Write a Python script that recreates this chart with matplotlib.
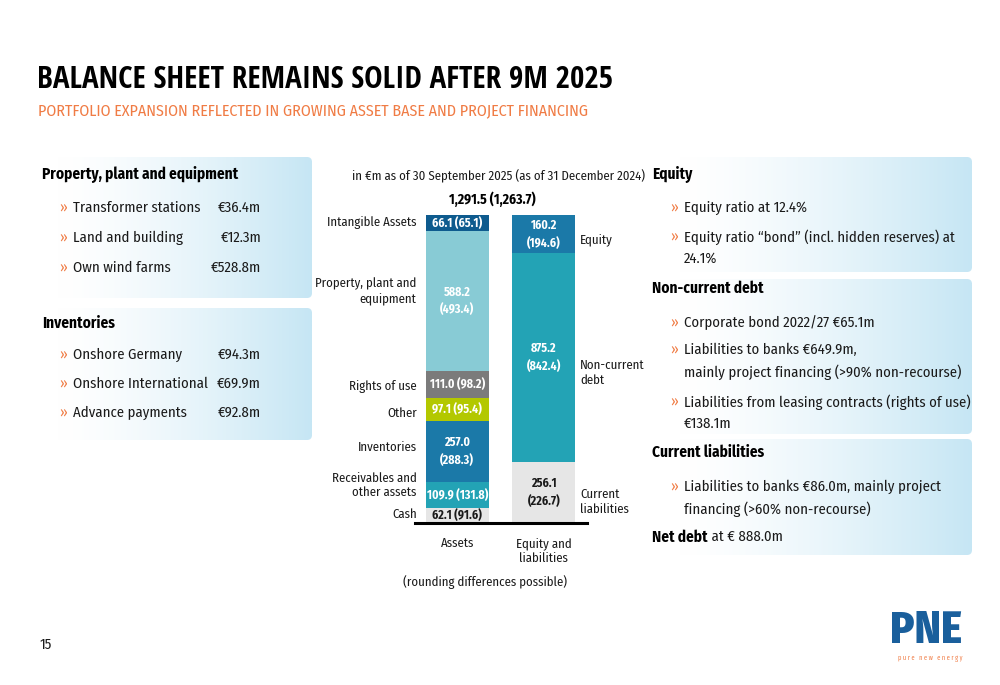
import matplotlib.pyplot as plt
import numpy as np
from matplotlib.patches import FancyBboxPatch

BODY_FONT = ['Fira Sans Condensed', 'DejaVu Sans']
TITLE_FONT = ['Open Sans Condensed', 'Fira Sans Condensed', 'DejaVu Sans']
plt.rcParams['font.family'] = BODY_FONT

# balance sheet data, in EUR m (30 Sep 2025 and 31 Dec 2024)
asset_names = ['Cash', 'Receivables and\nother assets', 'Inventories', 'Other',
               'Rights of use', 'Property, plant and\nequipment', 'Intangible Assets']
asset_values = [62.1, 109.9, 257.0, 97.1, 111.0, 588.2, 66.1]
asset_prev = [91.6, 131.8, 288.3, 95.4, 98.2, 493.4, 65.1]

liab_names = ['Current\nliabilities', 'Non-current\ndebt', 'Equity']
liab_values = [256.1, 875.2, 160.2]
liab_prev = [226.7, 842.4, 194.6]

total_now = 1291.5
total_prev = 1263.7

bar_names = ['Assets', 'Equity and\nliabilities']

ppe_items = ['Transformer stations', 'Land and building', 'Own wind farms']
ppe_amounts = ['€36.4m', '€12.3m', '€528.8m']
inv_items = ['Onshore Germany', 'Onshore International', 'Advance payments']
inv_amounts = ['€94.3m', '€69.9m', '€92.8m']

asset_colors = ['#e6e6e6', '#23a3b5', '#1b79a8', '#b3c800', '#7b7b7b', '#88cbd5', '#0e5b8e']
liab_colors = ['#e6e6e6', '#23a3b5', '#1b79a8']
dark_labels = {'Cash', 'Current\nliabilities'}
two_line = {'Inventories', 'Property, plant and\nequipment', 'Equity',
            'Non-current\ndebt', 'Current\nliabilities'}
# vertical nudges of the side labels (points, + = up)
nudge = {'Property, plant and\nequipment': 7, 'Receivables and\nother assets': 7,
         'Rights of use': -1.5, 'Other': -3, 'Inventories': 3, 'Cash': 1,
         'Equity': -4, 'Non-current\ndebt': -11, 'Current\nliabilities': -7}

ORANGE = '#f07c45'
INK = '#1a1a1a'

fig = plt.figure(figsize=(10, 6.85), dpi=100)
bg = fig.add_axes([0, 0, 1, 1])
bg.axis('off')

grad = np.clip((np.linspace(0, 1, 256) - 0.1) / 0.9, 0, 1) ** 1.4
img = np.zeros((1, 256, 3))
end = np.array([0xc6, 0xe6, 0xf4]) / 255
for k in range(3):
    img[0, :, k] = 1 - grad * (1 - end[k])


def panel(x0, y0, x1, y1):
    box = FancyBboxPatch((x0, y0), x1 - x0, y1 - y0,
                         boxstyle='round,pad=0,rounding_size=5',
                         fc='none', ec='none', transform=bg.transData)
    bg.add_patch(box)
    im = bg.imshow(img, extent=(x0, x1, y1, y0), aspect='auto', zorder=0)
    im.set_clip_path(box)


panel(30, 157, 312, 298)
panel(30, 308, 312, 440)
panel(648, 157, 972, 272)
panel(648, 279, 972, 434)
panel(648, 439, 972, 555)
bg.set_xlim(0, 1000)
bg.set_ylim(685, 0)

# header
bg.text(37, 80, 'BALANCE SHEET REMAINS SOLID AFTER 9M 2025', fontsize=22.4,
        fontweight='bold', va='center', color='black', family=TITLE_FONT)
bg.text(38, 111, 'PORTFOLIO EXPANSION REFLECTED IN GROWING ASSET BASE AND PROJECT FINANCING',
        fontsize=11.5, va='center', color=ORANGE)

body = 10.6
head = 11


def bullet(x, y, s):
    bg.text(x, y, '»', fontsize=body, color=ORANGE, va='center')
    bg.text(x + 14, y, s, fontsize=body, va='center', color=INK)


def line(x, y, s):
    bg.text(x, y, s, fontsize=body, va='center', color=INK)


# left panels
bg.text(42, 174, 'Property, plant and equipment', fontsize=head, fontweight='bold', va='center')
for i, (s, a) in enumerate(zip(ppe_items, ppe_amounts)):
    y = 208 + i * 30
    bullet(59, y, s)
    bg.text(261, y, a, fontsize=body, va='center', ha='right', color=INK)

bg.text(42, 323, 'Inventories', fontsize=head, fontweight='bold', va='center')
for i, (s, a) in enumerate(zip(inv_items, inv_amounts)):
    y = 355 + i * 29
    bullet(59, y, s)
    bg.text(261, y, a, fontsize=body, va='center', ha='right', color=INK)

# right panels
bg.text(652, 174, 'Equity', fontsize=head, fontweight='bold', va='center')
bullet(670, 208, 'Equity ratio at 12.4%')
bullet(670, 237, 'Equity ratio “bond” (incl. hidden reserves) at')
line(684, 259, '24.1%')
bg.text(652, 288, 'Non-current debt', fontsize=head, fontweight='bold', va='center')
bullet(670, 323, 'Corporate bond 2022/27 €65.1m')
bullet(670, 350, 'Liabilities to banks €649.9m,')
line(684, 372, 'mainly project financing (>90% non-recourse)')
bullet(670, 402, 'Liabilities from leasing contracts (rights of use)')
line(684, 424, '€138.1m')
bg.text(652, 452, 'Current liabilities', fontsize=head, fontweight='bold', va='center')
bullet(670, 487, 'Liabilities to banks €86.0m, mainly project')
line(684, 509, 'financing (>60% non-recourse)')
t = bg.text(652, 537, 'Net debt', fontsize=head, fontweight='bold', va='center')
bg.annotate(' at € 888.0m', xycoords=t, xy=(1, 0.5), va='center', fontsize=body, color=INK)

# chart captions
bg.text(498, 176, 'in €m as of 30 September 2025 (as of 31 December 2024)', fontsize=9.2,
        ha='center', va='center', color=INK)
bg.text(492, 199, f'{total_now:,.1f} ({total_prev:,.1f})', fontsize=9.8, fontweight='bold',
        ha='center', va='center')
bg.text(485, 582, '(rounding differences possible)', fontsize=9.2, ha='center', va='center',
        color=INK)

# footer
bg.text(40, 645, '15', fontsize=10.5, va='center', color=INK)
bg.text(962, 643, 'PNE', fontsize=32, fontweight=800, ha='right', va='baseline', color='#1a5f9c')
bg.text(962, 658, 'p u r e   n e w   e n e r g y', fontsize=4.6, ha='right', va='center',
        color=ORANGE)

# stacked bars
ax = fig.add_axes([0.415, (685 - 523) / 685, 0.172, 308 / 685])
ax.set_xlim(-0.49, 1.5)
ax.set_ylim(0, total_now)
ax.axis('off')
w = 0.73


def fmt(name, v, p):
    sep = '\n' if name in two_line else ' '
    return f'{v:.1f}{sep}({p:.1f})'


def stack(x, names, values, prev, colors, lab_x, lab_ha):
    bottom = 0
    for name, v, p, c in zip(names, values, prev, colors):
        ax.bar(x, v, w, bottom=bottom, color=c, linewidth=0)
        mid = bottom + v / 2
        ax.text(x, mid, fmt(name, v, p), ha='center', va='center', fontsize=8.6,
                fontweight='bold', color=INK if name in dark_labels else 'white',
                linespacing=1.45)
        ax.annotate(name, (lab_x, mid), xytext=(0, nudge.get(name, 0)),
                    textcoords='offset points', ha=lab_ha, va='center', fontsize=9.2,
                    color=INK, linespacing=1.25)
        bottom += v


stack(0, asset_names, asset_values, asset_prev, asset_colors, -0.47, 'right')
stack(1, liab_names, liab_values, liab_prev, liab_colors, 1.42, 'left')

ax.plot([-0.49, 1.5], [0, 0], color='black', lw=2.2, clip_on=False)
for i, n in enumerate(bar_names):
    ax.annotate(n, (i, 0), xytext=(0, -10), textcoords='offset points', ha='center', va='top',
                fontsize=9.2, color=INK, linespacing=1.25)

fig.savefig('out.png', dpi=100)
